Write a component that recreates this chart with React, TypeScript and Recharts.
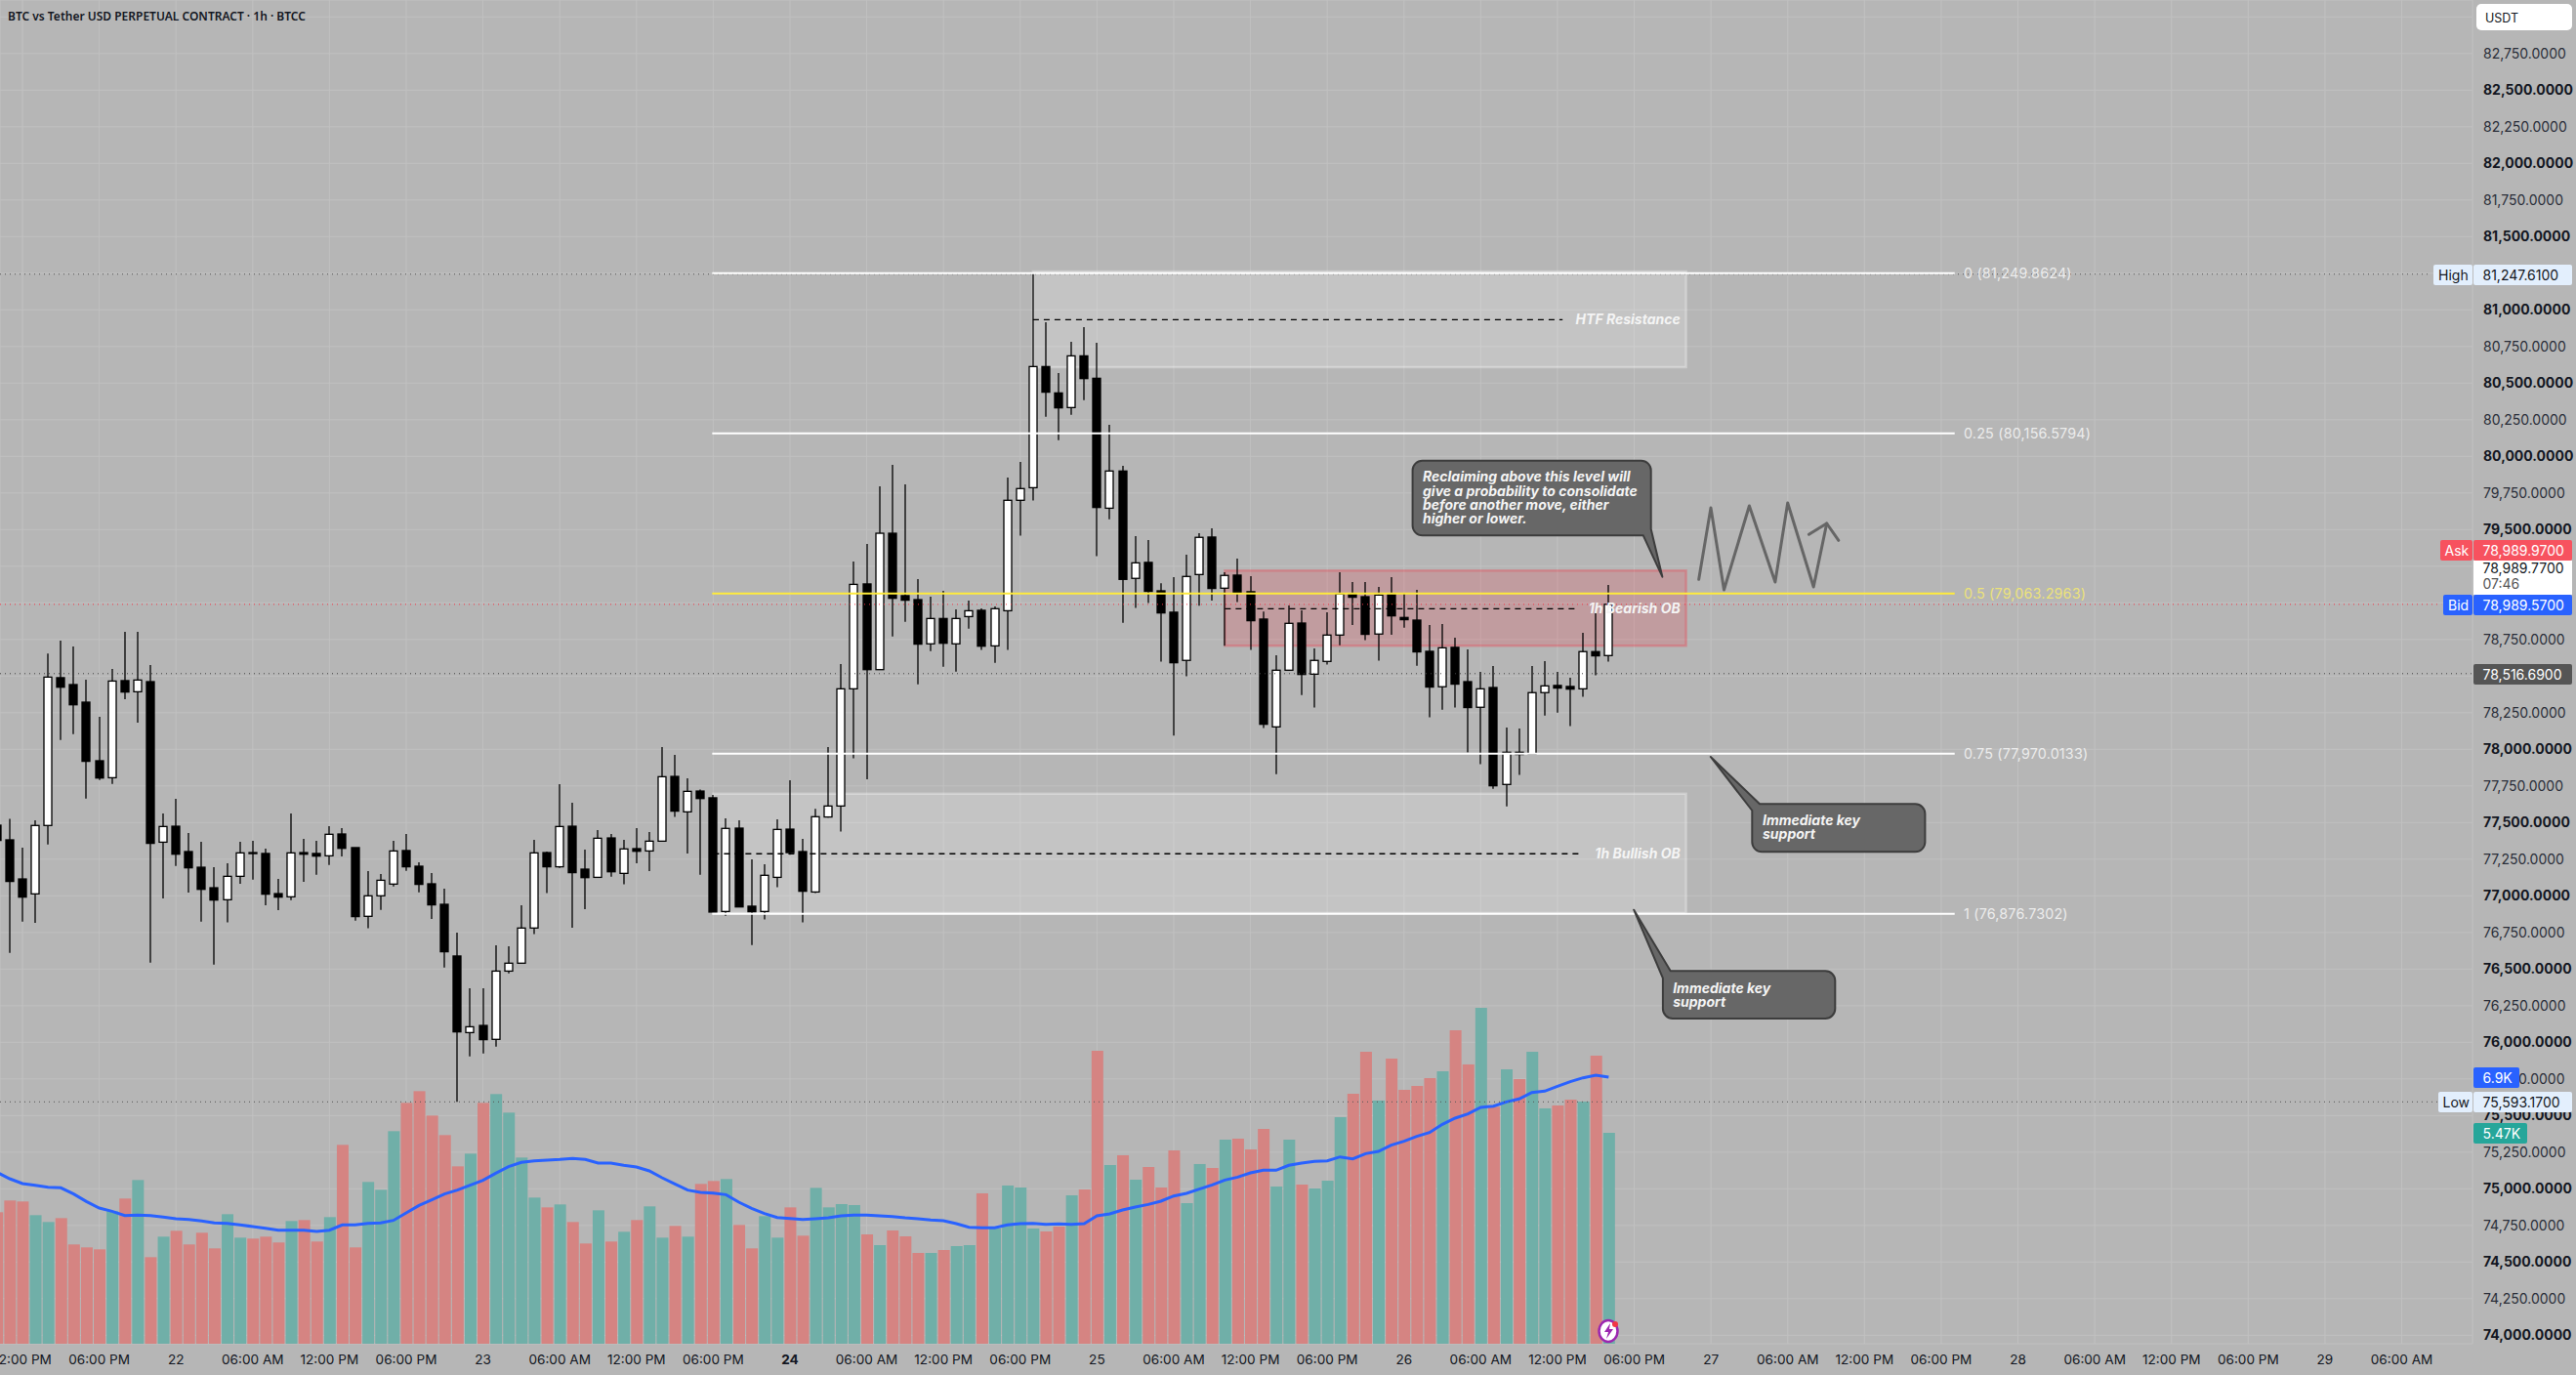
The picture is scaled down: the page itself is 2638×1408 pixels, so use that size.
import React from "react";
import {
  ComposedChart, Bar, Line, XAxis, YAxis, CartesianGrid, ReferenceArea, ReferenceLine, ReferenceDot,
} from "recharts";

const W = 2638, H = 1408;
const opens = [77482,
77382,77115,77013,77480,78489,78442,78322,77922,77806,78469,
78393,78462,77366,77475,77302,77195,77055,76973,77133,77295,
77289,77015,76993,77295,77289,77273,77422,77329,76860,77000,
77080,77309,77202,77082,76942,76589,76066,76115,76020,76486,
76540,76780,77295,77198,77475,77182,77126,77395,77153,77322,
77306,77373,77815,77573,77715,77669,76893,77462,76929,76893,
77126,77455,77302,77026,77538,77613,78413,79129,78544,79475,
79049,79022,78720,78893,78720,78906,78949,78706,78946,79700,
79786,80613,80433,80333,80686,80533,79646,79900,79167,79276,
79082,78936,78607,79193,79449,79100,79189,79076,78889,78153,
78540,78862,78513,78600,78780,79060,79042,78787,79056,78900,
78882,78669,78427,78696,78462,78287,78422,77760,77980,77967,
78387,78436,78429,78413,78667,78640];
const highs = [77500,
77526,77329,77515,78653,78742,78702,78475,78222,78549,78802,
78802,78575,77562,77662,77429,77369,77195,77222,77369,77375,
77322,77115,77562,77389,77375,77475,77462,77329,77169,77149,
77375,77422,77229,77155,77049,76749,76369,76369,76662,76655,
76935,77382,77302,77762,77635,77315,77449,77422,77382,77462,
77435,78015,77962,77802,77726,77689,77529,77515,77249,77215,
77522,77789,77389,77593,78015,78582,79282,79402,79795,79942,
79809,79162,79042,79082,78955,79015,78962,78975,79855,79962,
81248,80915,80569,80782,80882,80775,80215,79935,79456,79429,
79133,79176,79329,79476,79509,79209,79302,79182,78940,78642,
78982,78949,78689,78936,79209,79142,79142,79109,79176,79062,
79089,78849,78856,78762,78682,78529,78569,78149,78142,78569,
78602,78529,78489,78796,78933,79122];
const lows = [76635,
76611,76824,76815,77351,78064,78104,77664,77791,77764,78342,
78182,76544,76982,77204,77022,76824,76531,76818,77082,77111,
76935,76902,76971,77095,77144,77211,77269,76831,76778,76904,
77064,77171,77024,76842,76511,75593,75904,75924,75971,76471,
76538,76738,77018,77191,76782,76909,77124,77131,77078,77222,
77169,77373,77538,77289,77144,76889,76864,76922,76664,76838,
77058,77280,76818,77018,77533,77438,77938,77795,78544,78771,
78871,78444,78671,78564,78531,78824,78678,78591,78678,79458,
79698,80271,80111,80284,80384,79318,79571,78864,78965,78998,
78598,78093,78498,78980,79016,78707,79005,78678,78145,77831,
78538,78371,78285,78578,78711,78849,78745,78605,78782,78831,
78571,78218,78271,78285,77978,77898,77731,77611,77825,77967,
78231,78251,78158,78358,78505,78598];
const closes = [77378,
77098,76991,77480,78493,78424,78304,77918,77804,78466,78391,
78473,77358,77473,77284,77191,77044,76971,77133,77293,77289,
77011,76991,77293,77284,77271,77420,77324,76858,77000,77106,
77306,77198,77078,76938,76618,76071,76106,76018,76486,76540,
76780,77293,77198,77473,77158,77124,77393,77164,77320,77304,
77373,77813,77578,77713,77664,76889,77460,76924,76891,77140,
77453,77295,77031,77540,77613,78413,79126,78544,79475,79031,
79018,78718,78893,78724,78893,78946,78704,78960,79700,79780,
80613,80438,80331,80686,80531,79651,79900,79160,79273,79078,
78931,78591,79180,79447,79098,79187,79071,78878,78171,78540,
78860,78511,78607,78780,79060,79038,78785,79053,78911,78885,
78665,78425,78693,78445,78285,78413,77751,77980,77965,78387,
78433,78418,78411,78667,78638,78990];
const volumes = [3415,
3719,3694,3339,3161,3262,2578,2502,2451,3440,3770,
4251,2248,2781,2933,2578,2882,2476,3364,2755,2730,
2781,2629,3186,3212,2654,3288,5164,2502,4201,3998,
5519,6254,6559,5925,5418,4606,4936,6254,6483,6001,
4835,3795,3541,3617,3161,2603,3465,2654,2907,3212,
3567,2755,3060,2781,4150,4226,4277,3085,2476,3313,
2755,3541,2806,4048,3541,3626,3601,2840,2561,2941,
2789,2358,2358,2434,2536,2561,3905,2992,4108,4057,
2992,2916,3043,3854,4006,7607,4640,4894,4260,4589,
4057,5020,3651,4666,4564,5299,5325,5046,5578,4082,
5299,4133,4032,4234,5883,6491,7581,6314,7404,6593,
6694,6897,7074,8139,7252,8722,6153,7125,6871,7581,
6111,6187,6339,6288,7480,5477];
const volumeMA = [4454,
4285,4158,4116,4065,4049,3888,3694,3525,3440,3330,
3339,3330,3288,3246,3229,3186,3136,3127,3085,3043,
3000,2950,2950,2950,2916,2950,3085,3085,3127,3136,
3203,3398,3592,3736,3888,3989,4116,4243,4429,4598,
4708,4750,4767,4784,4809,4784,4691,4691,4632,4589,
4488,4311,4150,3989,3930,3913,3871,3677,3516,3381,
3279,3254,3229,3246,3270,3322,3339,3339,3322,3305,
3271,3246,3212,3195,3119,3026,3009,3009,3085,3119,
3127,3102,3110,3102,3119,3322,3372,3474,3550,3617,
3702,3837,3905,4015,4125,4251,4327,4437,4505,4505,
4632,4691,4733,4750,4851,4801,4936,4995,5156,5257,
5384,5485,5697,5857,5967,6136,6170,6280,6356,6525,
6559,6686,6804,6905,6973,6922];
const firstHour = -1;
const timeTicks = [1,7,13,19,25,31,37,43,49,55,61,67,73,79,85,91,97,103,109,115,121,127,133,139,145,151,157,163,169,175,181,187];
const timeLabels = ["12:00 PM","06:00 PM","22","06:00 AM","12:00 PM","06:00 PM","23","06:00 AM","12:00 PM","06:00 PM","24","06:00 AM","12:00 PM","06:00 PM","25","06:00 AM","12:00 PM","06:00 PM","26","06:00 AM","12:00 PM","06:00 PM","27","06:00 AM","12:00 PM","06:00 PM","28","06:00 AM","12:00 PM","06:00 PM","29","06:00 AM"];
const priceTicks = [74000,74250,74500,74750,75000,75250,75500,75750,76000,76250,76500,76750,77000,77250,77500,77750,78000,78250,78500,78750,79000,79250,79500,79750,80000,80250,80500,80750,81000,81250,81500,81750,82000,82250,82500,82750,83000];
const coveredTicks = [83000, 81250, 79250, 79000, 78500];
const fibLevels = [
  { ratio: "0", price: 81249.8624, color: "#ffffff", text: "#ececec" },
  { ratio: "0.25", price: 80156.5794, color: "#ffffff", text: "#ececec" },
  { ratio: "0.5", price: 79063.2963, color: "#ffeb3b", text: "#ece27a" },
  { ratio: "0.75", price: 77970.0133, color: "#ffffff", text: "#ececec" },
  { ratio: "1", price: 76876.7302, color: "#ffffff", text: "#ececec" },
];
const zones = [
  { name: "HTF Resistance", top: 81262, bottom: 80609, mid: 80933, from: 80, to: 131.05, dashTo: 121.4, fill: "rgba(255,255,255,0.2)", stroke: "rgba(255,255,255,0.3)" },
  { name: "1h Bearish OB", top: 79220, bottom: 78707, mid: 78960, from: 95, to: 131.05, dashTo: 122.6, fill: "rgba(242,54,69,0.2)", stroke: "rgba(242,54,69,0.3)" },
  { name: "1h Bullish OB", top: 77697, bottom: 76882, mid: 77287, from: 55, to: 131.05, dashTo: 123, fill: "rgba(255,255,255,0.2)", stroke: "rgba(255,255,255,0.3)" },
];
const highLevel = { price: 81247.61, to: 189.3, color: "#555555" };
const dottedLevels = [
  { price: 78989.57, to: 190.1, color: "#f23645" },
  { price: 78516.69, to: 192.53, color: "#444444" },
  { price: 75593.17, to: 189.8, color: "#555555" },
];
const rows = opens.map((o, i) => ({
  k: i + firstHour, open: o, high: highs[i], low: lows[i], close: closes[i], volume: volumes[i], ma: volumeMA[i],
}));

const UI = "Inter, 'Liberation Sans', sans-serif";
const xDomain = [-0.756, 192.53];
const priceDomain = [73942, 83115.33];
const volumeDomain = [0, 34890];

const Candle = (p: any) => {
  const { x, y, width, height, payload } = p;
  const top = Math.min(y, y + height), h = Math.abs(height);
  const cx = Math.round(x + width / 2);
  const range = payload.high - payload.low;
  const yOf = (v: number) => top + ((payload.high - v) / range) * h;
  const up = payload.close >= payload.open;
  const bt = yOf(Math.max(payload.open, payload.close));
  const bb = yOf(Math.min(payload.open, payload.close));
  return (
    <g>
      <line x1={cx} x2={cx} y1={top} y2={top + h} stroke="#000" strokeWidth={1.3} />
      <rect x={cx - 4} y={bt} width={8} height={Math.max(bb - bt, 1)} fill={up ? "#fff" : "#000"} stroke="#000" strokeWidth={1.3} />
    </g>
  );
};
const VolBar = (p: any) => {
  const up = p.payload.close >= p.payload.open;
  return <rect x={p.x} y={p.y} width={p.width} height={p.height} fill={up ? "#70afa8" : "#d58482"} />;
};
const PriceTick = (p: any) => {
  const v = p.payload.value;
  if (coveredTicks.includes(v)) return <g />;
  const bold = v % 500 === 0;
  return (
    <text x={2543} y={p.y + 5} fontFamily={UI} fontSize={14} fontWeight={bold ? 700 : 400} fill={bold ? "#131722" : "#2a2e39"}>
      {v.toLocaleString("en-US", { minimumFractionDigits: 4 })}
    </text>
  );
};
const TimeTick = (p: any) => {
  const label = timeLabels[timeTicks.indexOf(p.payload.value)];
  return (
    <text x={p.x} y={1397} textAnchor="middle" fontFamily={UI} fontSize={13.6} fontWeight={label === "24" ? 700 : 400} fill="#131722">
      {label}
    </text>
  );
};
const textDot = (key: string, x: number, y: number, label: string, style: any, dy = 5) => (
  <ReferenceDot key={key} xAxisId="main" yAxisId="price" x={x} y={y} r={0} ifOverflow="visible"
    shape={(s: any) => <text x={s.cx} y={s.cy + dy} fontFamily={UI} {...style}>{label}</text>} />
);

const CALL = { fill: "#676767", stroke: "#3d3d3d", strokeWidth: 2, strokeLinejoin: "round" as const };
const noteText = { fill: "#f4f4f4", fontFamily: UI, fontSize: 14, fontStyle: "italic", fontWeight: 700 };
const Badge = ({ x, y, w, h, fill, color, text, fs = 14, dx = 9.5, rx = 2 }: any) => (
  <g>
    <rect x={x} y={y} width={w} height={h} rx={rx} fill={fill} />
    <text x={x + dx} y={y + h / 2 + 5} fontFamily={UI} fontSize={fs} fill={color}>{text}</text>
  </g>
);

export default function App() {
  return (
    <div style={{ position: "absolute", left: 0, top: 0, width: W, height: H, background: "#b6b6b6", overflow: "hidden" }}>
      <ComposedChart width={W} height={H} data={rows} margin={{ top: 0, right: 0, bottom: 0, left: 0 }}>
        <XAxis xAxisId="main" type="number" dataKey="k" domain={xDomain} allowDataOverflow ticks={timeTicks} tick={TimeTick} tickLine={false} axisLine={false} height={32} interval={0} />
        <XAxis xAxisId="vol" type="number" dataKey="k" domain={xDomain} allowDataOverflow hide />
        <YAxis yAxisId="price" orientation="right" type="number" domain={priceDomain} allowDataOverflow ticks={priceTicks} tick={PriceTick} tickLine={false} axisLine={false} width={106} interval={0} />
        <YAxis yAxisId="vol" type="number" domain={volumeDomain} allowDataOverflow hide />
        <CartesianGrid xAxisId="main" yAxisId="price" stroke="#c1c1c1" strokeWidth={1} />
        <Bar xAxisId="vol" yAxisId="vol" dataKey="volume" barSize={12} shape={VolBar} isAnimationActive={false} />
        <Line xAxisId="vol" yAxisId="vol" dataKey="ma" type="linear" dot={false} activeDot={false} stroke="#2962ff" strokeWidth={3} isAnimationActive={false} />
        {zones.map((z) => (
          <ReferenceArea key={z.name} xAxisId="main" yAxisId="price" x1={z.from} x2={z.to} y1={z.bottom} y2={z.top} fill={z.fill} fillOpacity={1} stroke={z.stroke} strokeWidth={2.5} ifOverflow="visible" />
        ))}
        {zones.map((z) => (
          <ReferenceLine key={z.name + "d"} xAxisId="main" yAxisId="price" segment={[{ x: z.from, y: z.mid }, { x: z.dashTo, y: z.mid }]} stroke="#000" strokeWidth={1.3} strokeDasharray="6 5" ifOverflow="visible" />
        ))}
        {zones.map((z) => textDot(z.name + "t", 130.6, z.mid, z.name, { textAnchor: "end", fontSize: 14, fontStyle: "italic", fontWeight: 700, fill: "#f4f4f4" }))}
        <ReferenceLine xAxisId="main" yAxisId="price" segment={[{ x: xDomain[0], y: highLevel.price - 4 }, { x: highLevel.to, y: highLevel.price - 4 }]} stroke={highLevel.color} strokeWidth={1} strokeDasharray="1 4" ifOverflow="visible" />
        {fibLevels.map((f) => (
          <ReferenceLine key={f.ratio} xAxisId="main" yAxisId="price" segment={[{ x: 54.92, y: f.price }, { x: 152.05, y: f.price }]} stroke={f.color} strokeWidth={2} ifOverflow="visible" />
        ))}
        {fibLevels.map((f) => textDot("fib" + f.ratio, 152.76, f.price, `${f.ratio} (${f.price.toLocaleString("en-US", { minimumFractionDigits: 4 })})`, { fontSize: 14.3, letterSpacing: 0.2, fill: f.text }, 5.5))}
        <Bar xAxisId="main" yAxisId="price" dataKey={(d: any) => [d.low, d.high]} barSize={9} shape={Candle} isAnimationActive={false} />
        {dottedLevels.map((d) => (
          <ReferenceLine key={d.price} xAxisId="main" yAxisId="price" segment={[{ x: xDomain[0], y: d.price }, { x: d.to, y: d.price }]} stroke={d.color} strokeWidth={1} strokeDasharray="1 4" ifOverflow="visible" />
        ))}
      </ComposedChart>
      <svg width={W} height={H} style={{ position: "absolute", left: 0, top: 0, pointerEvents: "none" }}>
        <text x={8} y={21} fontFamily="'Noto Sans', sans-serif" fontSize={12} fontWeight={600} fill="#131722">BTC vs Tether USD PERPETUAL CONTRACT · 1h · BTCC</text>

        <path d="M1456.6 471.7 H1680.7 a10 10 0 0 1 10 10 V541.7 L1702.4 590.7 L1682.8 548.3 H1456.6 a10 10 0 0 1 -10 -10 V481.7 a10 10 0 0 1 10 -10 Z" {...CALL} />
        <text x={1457} y={493.3} {...noteText}>Reclaiming above this level will</text>
        <text x={1457} y={507.7} {...noteText}>give a probability to consolidate</text>
        <text x={1457} y={521.7} {...noteText}>before another move, either</text>
        <text x={1457} y={535.7} {...noteText}>higher or lower.</text>

        <path d="M1751.8 775 L1802 823.3 H1961.4 a10 10 0 0 1 10 10 V862.3 a10 10 0 0 1 -10 10 H1804.3 a10 10 0 0 1 -10 -10 V830 Z" {...CALL} />
        <text x={1805} y={845} {...noteText}>Immediate key</text>
        <text x={1805} y={859.3} {...noteText}>support</text>

        <path d="M1673.2 931.7 L1710.7 994.3 H1869.3 a10 10 0 0 1 10 10 V1033 a10 10 0 0 1 -10 10 H1712.9 a10 10 0 0 1 -10 -10 V1001.7 Z" {...CALL} />
        <text x={1713.2} y={1016.7} {...noteText}>Immediate key</text>
        <text x={1713.2} y={1031} {...noteText}>support</text>

        <polyline points="1739.7,593.3 1752,520 1765.5,604 1791.4,518 1817.9,596 1830.7,515 1857.2,601 1870.7,536" fill="none" stroke="#666" strokeWidth={3} strokeLinejoin="round" strokeLinecap="round" />
        <polyline points="1852.4,547.3 1870.7,536 1882.8,553.3" fill="none" stroke="#666" strokeWidth={3} strokeLinejoin="round" strokeLinecap="round" />

        <g>
          <ellipse cx={1647} cy={1363} rx={9.5} ry={11} fill="#fff" stroke="#9c27b0" strokeWidth={2.5} />
          <path d="M1649 1355 L1643 1364 H1647 L1645 1371 L1652 1361 H1648 Z" fill="#9c27b0" />
          <circle cx={1654} cy={1356} r={3} fill="#f23645" />
        </g>

        <Badge x={2536} y={4} w={98} h={27} fill="#ffffff" color="#131722" text="USDT" fs={12.5} dx={9} rx={5} />
        <Badge x={2492} y={271} w={40} h={21} fill="#e3effd" color="#131722" text="High" fs={14} dx={5} />
        <Badge x={2533} y={271} w={101} h={21} fill="#e3effd" color="#131722" text="81,247.6100" />
        <Badge x={2499} y={553} w={33} h={21} fill="#f7525f" color="#ffffff" text="Ask" fs={14} dx={4.5} />
        <rect x={2533} y={574} width={101} height={35} fill="#ffffff" />
        <Badge x={2533} y={553} w={101} h={21} fill="#f7525f" color="#ffffff" text="78,989.9700" />
        <text x={2542.5} y={587} fontFamily={UI} fontSize={14} fill="#131722">78,989.7700</text>
        <text x={2542.5} y={603} fontFamily={UI} fontSize={14} fill="#555">07:46</text>
        <Badge x={2502} y={609} w={30} h={21} fill="#2962ff" color="#ffffff" text="Bid" fs={14} dx={5} />
        <Badge x={2533} y={609} w={101} h={21} fill="#2962ff" color="#ffffff" text="78,989.5700" />
        <Badge x={2533} y={680} w={101} h={21} fill="#555555" color="#ffffff" text="78,516.6900" />
        <Badge x={2533} y={1093} w={47} h={21} fill="#2962ff" color="#ffffff" text="6.9K" />
        <Badge x={2497} y={1118} w={35} h={21} fill="#e3effd" color="#131722" text="Low" fs={14} dx={4.5} />
        <Badge x={2533} y={1118} w={101} h={21} fill="#e3effd" color="#131722" text="75,593.1700" />
        <Badge x={2533} y={1150} w={55} h={21} fill="#26a69a" color="#ffffff" text="5.47K" />
      </svg>
    </div>
  );
}
